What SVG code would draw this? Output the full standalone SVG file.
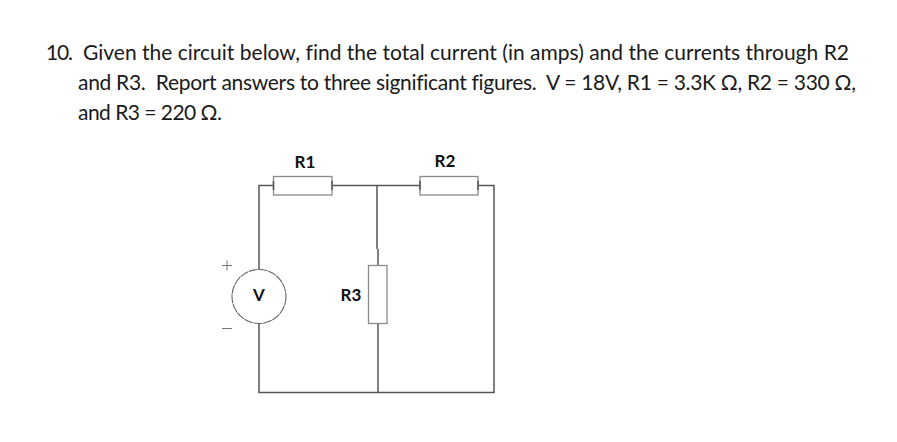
<svg xmlns="http://www.w3.org/2000/svg" width="897" height="442" viewBox="0 0 897 442">
<style>
.q{font-family:"Lato","Open Sans","Liberation Sans",sans-serif;font-size:21px;fill:#1a1a1a;white-space:pre;font-variant-ligatures:none}
.l{font-family:"Lato","Open Sans","Liberation Sans",sans-serif;font-size:17px;font-weight:700;fill:#111}
.w{fill:none;stroke:#555;stroke-width:1.5}
.r{fill:#fff;stroke:#8a8a8a;stroke-width:1.3}
.c{stroke:#555;stroke-width:1.5}
.s{stroke:#777;stroke-width:1;fill:none}
</style>
<rect width="897" height="442" fill="#fff"/>
<g id="question">
<text class="q" x="46" y="59.500" textLength="27">10.</text>
<text class="q" x="83" y="59.500" textLength="766">Given the circuit below, find the total current (in amps) and the currents through R2</text>
<text class="q" x="78" y="89.500" textLength="778">and R3.  Report answers to three significant figures.  V = 18V, R1 = 3.3K Ω, R2 = 330 Ω,</text>
<text class="q" x="78" y="119.500" textLength="144">and R3 = 220 Ω.</text>
</g>
<g id="connectors">
<path class="w" d="M273.500 185.500H259V270M332 185.500H420M478 185.500H494V392.500H259V323M377 185.500V249M378 249V266M378 323V392.500"/>
</g>
<g id="R1">
<rect class="r" x="273.500" y="176.500" width="58.500" height="18.500"/>
<path class="c" d="M273.500 181V190M332 181V190"/>
<text class="l" x="305" y="168" text-anchor="middle">R1</text>
</g>
<g id="R2">
<rect class="r" x="420" y="176.500" width="58" height="18.500"/>
<path class="c" d="M420 181V190M478 181V190"/>
<text class="l" x="445" y="166.500" text-anchor="middle">R2</text>
</g>
<g id="R3">
<rect class="r" x="368.500" y="265.500" width="18.500" height="58"/>
<text class="l" x="351" y="300.500" text-anchor="middle">R3</text>
</g>
<g id="V">
<circle cx="259" cy="296.500" r="27" fill="#fff" stroke="#666" stroke-width="1.1" stroke-dasharray="9 0.7"/>
<text class="l" x="259" y="300.500" text-anchor="middle">V</text>
<path class="s" d="M222 265.500H232M227 260.500V270.500M222 328.500H232"/>
</g>
</svg>
